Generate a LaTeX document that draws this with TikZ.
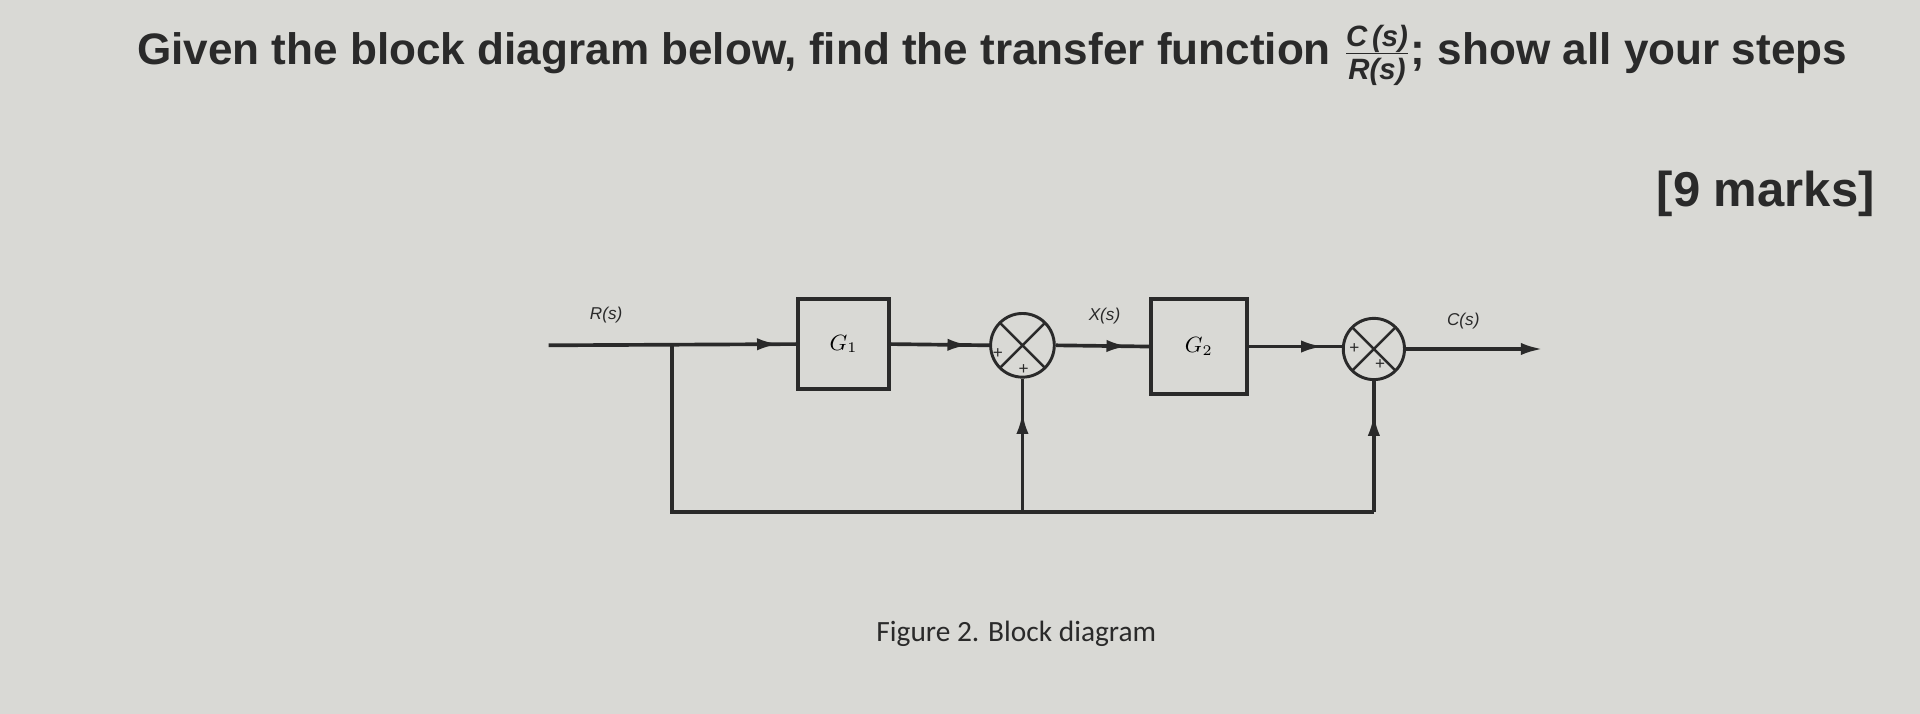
\documentclass[tikz,border=0pt]{standalone}
\usepackage{fontspec}
\setmainfont{Liberation Sans}
\newfontfamily\capfont{Carlito}
\usetikzlibrary{decorations.markings,arrows.meta}
\definecolor{bg}{HTML}{D9D9D5}
\definecolor{ink}{HTML}{2A2A2A}
\tikzset{
  blk/.style={draw=ink,line width=1.6pt,minimum width=37pt,minimum height=37pt,inner sep=0pt},
  sumn/.style={draw=ink,line width=1.2pt,circle,minimum size=26pt,inner sep=0pt,path picture={
    \draw[ink,line width=1pt] (path picture bounding box.north west)--(path picture bounding box.south east)
      (path picture bounding box.north east)--(path picture bounding box.south west);}},
  wire/.style={draw=ink,line width=1.5pt},
  midarr/.style={postaction={decorate},decoration={markings,mark=at position #1 with {\arrow{Latex[length=9pt,width=5pt]}}}},
  lbl/.style={font=\fontsize{7}{8}\selectfont\itshape, text=ink},
  sgn/.style={font=\fontsize{7}{8}\selectfont, text=ink, inner sep=0pt}
}
\begin{document}
\begin{tikzpicture}[x=0.5pt,y=-0.5pt]
\fill[bg] (0,0) rectangle (1568,583);
\useasboundingbox (0,0) rectangle (1568,583);
\node[anchor=west,font=\bfseries\fontsize{18}{20}\selectfont,text=ink] (title) at (105,45)
 {Given the block diagram below, find the transfer function $\frac{\mbox{\fontsize{12}{13}\selectfont\itshape C\,(s)}}{\mbox{\fontsize{12}{13}\selectfont\itshape R(s)}}$; show all your steps};
\node[anchor=east,font=\bfseries\fontsize{20}{22}\selectfont,text=ink] (marks) at (1538,158) {[9 marks]};
\coordinate (in) at (448,282);
\coordinate (br) at (549,282);
\node[blk] (g1) at (689,281) {\itshape\small $G_1$};
\node[sumn] (s1) at (835,282) {};
\node[blk,minimum width=39pt,minimum height=39pt] (g2) at (979,283) {\itshape\small $G_2$};
\node[sumn,minimum size=25pt] (s2) at (1122,285) {};
\coordinate (out) at (1260,285);
\coordinate (b1) at (549,418);
\coordinate (b2) at (835,418);
\coordinate (b3) at (1122,418);
\draw[wire,midarr=0.93] (in) -- (g1.west);
\draw[wire,midarr=0.80] (g1.east) -- (s1.west);
\draw[wire,midarr=0.78] (s1.east) -- (g2.west);
\draw[wire,midarr=0.80] (g2.east) -- (s2.west |- g2.east);
\draw[wire,-{Latex[length=9pt,width=5pt]}] (s2.east) -- (out);
\draw[wire] (br) -- (b1) -- (b3);
\draw[wire,midarr=0.75] (b2) -- (s1.south);
\draw[wire,midarr=0.75] (b3) -- (s2.south);
\node[lbl] (rl) at (495,257) {R(s)};
\node[lbl] (xl) at (902,258) {X(s)};
\node[lbl] (cl) at (1195,262) {C(s)};
\node[sgn] at (815,289) {+};
\node[sgn] at (836,302) {+};
\node[sgn] at (1106,285) {+};
\node[sgn] at (1127,298) {+};
\node[font=\capfont\fontsize{12}{14}\selectfont,text=ink] (cap) at (830,518) {Figure 2. Block diagram};
\end{tikzpicture}
\end{document}
